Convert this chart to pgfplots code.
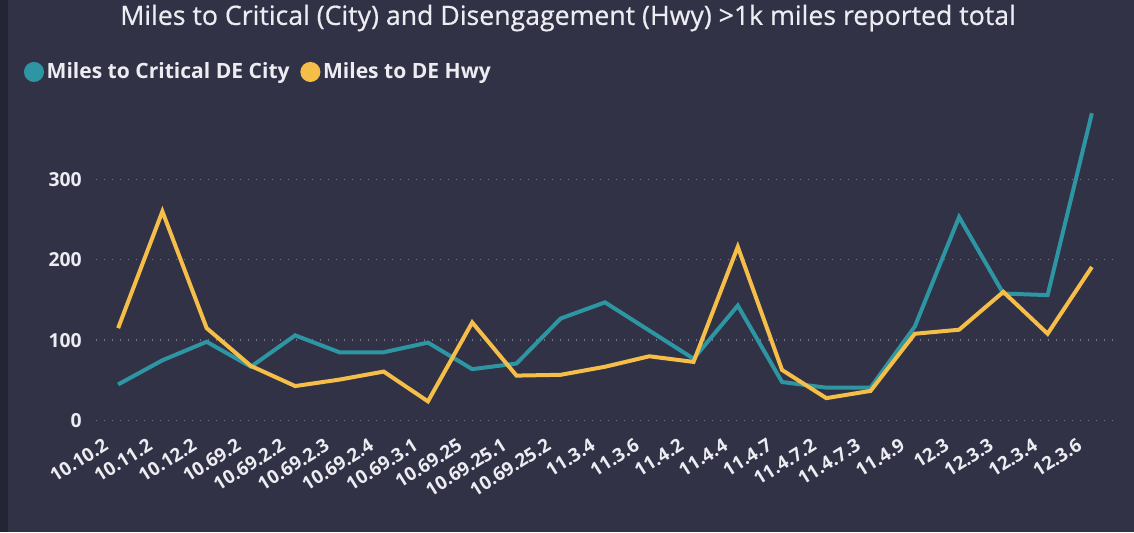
\documentclass[border=0pt]{standalone}
\usepackage{fontspec}
\setmainfont{Open Sans}
\usepackage{pgfplots}
\pgfplotsset{compat=1.18}
\definecolor{bgc}{RGB}{49,50,70}
\definecolor{edgec}{RGB}{36,37,50}
\definecolor{tealc}{RGB}{45,150,162}
\definecolor{yelc}{RGB}{245,190,72}
\definecolor{txtc}{RGB}{236,236,242}
\definecolor{gridc}{RGB}{115,117,138}
\begin{document}
\begin{tikzpicture}
\fill[bgc] (0pt,0pt) rectangle (850.5pt,399pt);
\fill[edgec] (0pt,0pt) rectangle (6pt,399pt);
\useasboundingbox (0pt,0pt) rectangle (850.5pt,399pt);
\begin{axis}[
  at={(72pt,83.5pt)}, anchor=south west,
  scale only axis, width=763.5pt, height=235.4pt,
  xmin=-0.5, xmax=22.5, ymin=0, ymax=390,
  axis line style={draw=none},
  ytick={0,100,200,300},
  xtick={0,...,22},
  xticklabels={10.10.2,10.11.2,10.12.2,10.69.2,10.69.2.2,10.69.2.3,10.69.2.4,10.69.3.1,10.69.25,10.69.25.1,10.69.25.2,11.3.4,11.3.6,11.4.2,11.4.4,11.4.7,11.4.7.2,11.4.7.3,11.4.9,12.3,12.3.3,12.3.4,12.3.6},
  major tick length=0pt,
  tick style={draw=none},
  ymajorgrids,
  grid style={gridc, line width=1.1pt, dash pattern=on 1.1pt off 4.9pt},
  yticklabel style={anchor=east, inner sep=0pt, xshift=-10.5pt, text=txtc, font=\fontsize{14.5}{16}\selectfont\bfseries},
  xticklabel style={xshift=-9pt, yshift=-17pt, rotate=32, anchor=east, inner sep=0pt, text=txtc, font=\fontsize{14}{16}\selectfont\bfseries},
  /pgf/number format/assume math mode=true,
  every axis title shift=0pt,
  title={Miles to Critical (City) and Disengagement (Hwy) >1k miles reported total},
  title style={at={(axis description cs:0.4637,1.283)}, anchor=center, text=txtc, font=\fontsize{20}{23}\selectfont\addfontfeature{FakeBold=0.6}},
  legend columns=2,
  legend style={at={(axis description cs:-0.071,1.111)}, anchor=west, draw=none, fill=none, text=txtc, font=\fontsize{15.8}{18}\selectfont\bfseries, inner sep=0pt, /tikz/every even column/.append style={column sep=6pt}},
  legend image code/.code={\fill[#1] (3pt,0pt) circle (6pt);},
  legend cell align=left,
]
\addplot[color=tealc, line width=3pt] coordinates {
(0,45)(1,75)(2,98)(3,67)(4,106)(5,85)(6,85)(7,97)(8,64)(9,71)(10,127)(11,147)(12,112)(13,77)(14,143)(15,48)(16,41)(17,41)(18,117)(19,253)(20,158)(21,156)(22,382)};
\addlegendentry{Miles to Critical DE City}
\addplot[color=yelc, line width=3pt] coordinates {
(0,115)(1,260)(2,115)(3,68)(4,43)(5,51)(6,61)(7,24)(8,122)(9,56)(10,57)(11,67)(12,80)(13,73)(14,216)(15,63)(16,28)(17,37)(18,108)(19,113)(20,160)(21,108)(22,191)};
\addlegendentry{Miles to DE Hwy}
\end{axis}
\end{tikzpicture}
\end{document}
